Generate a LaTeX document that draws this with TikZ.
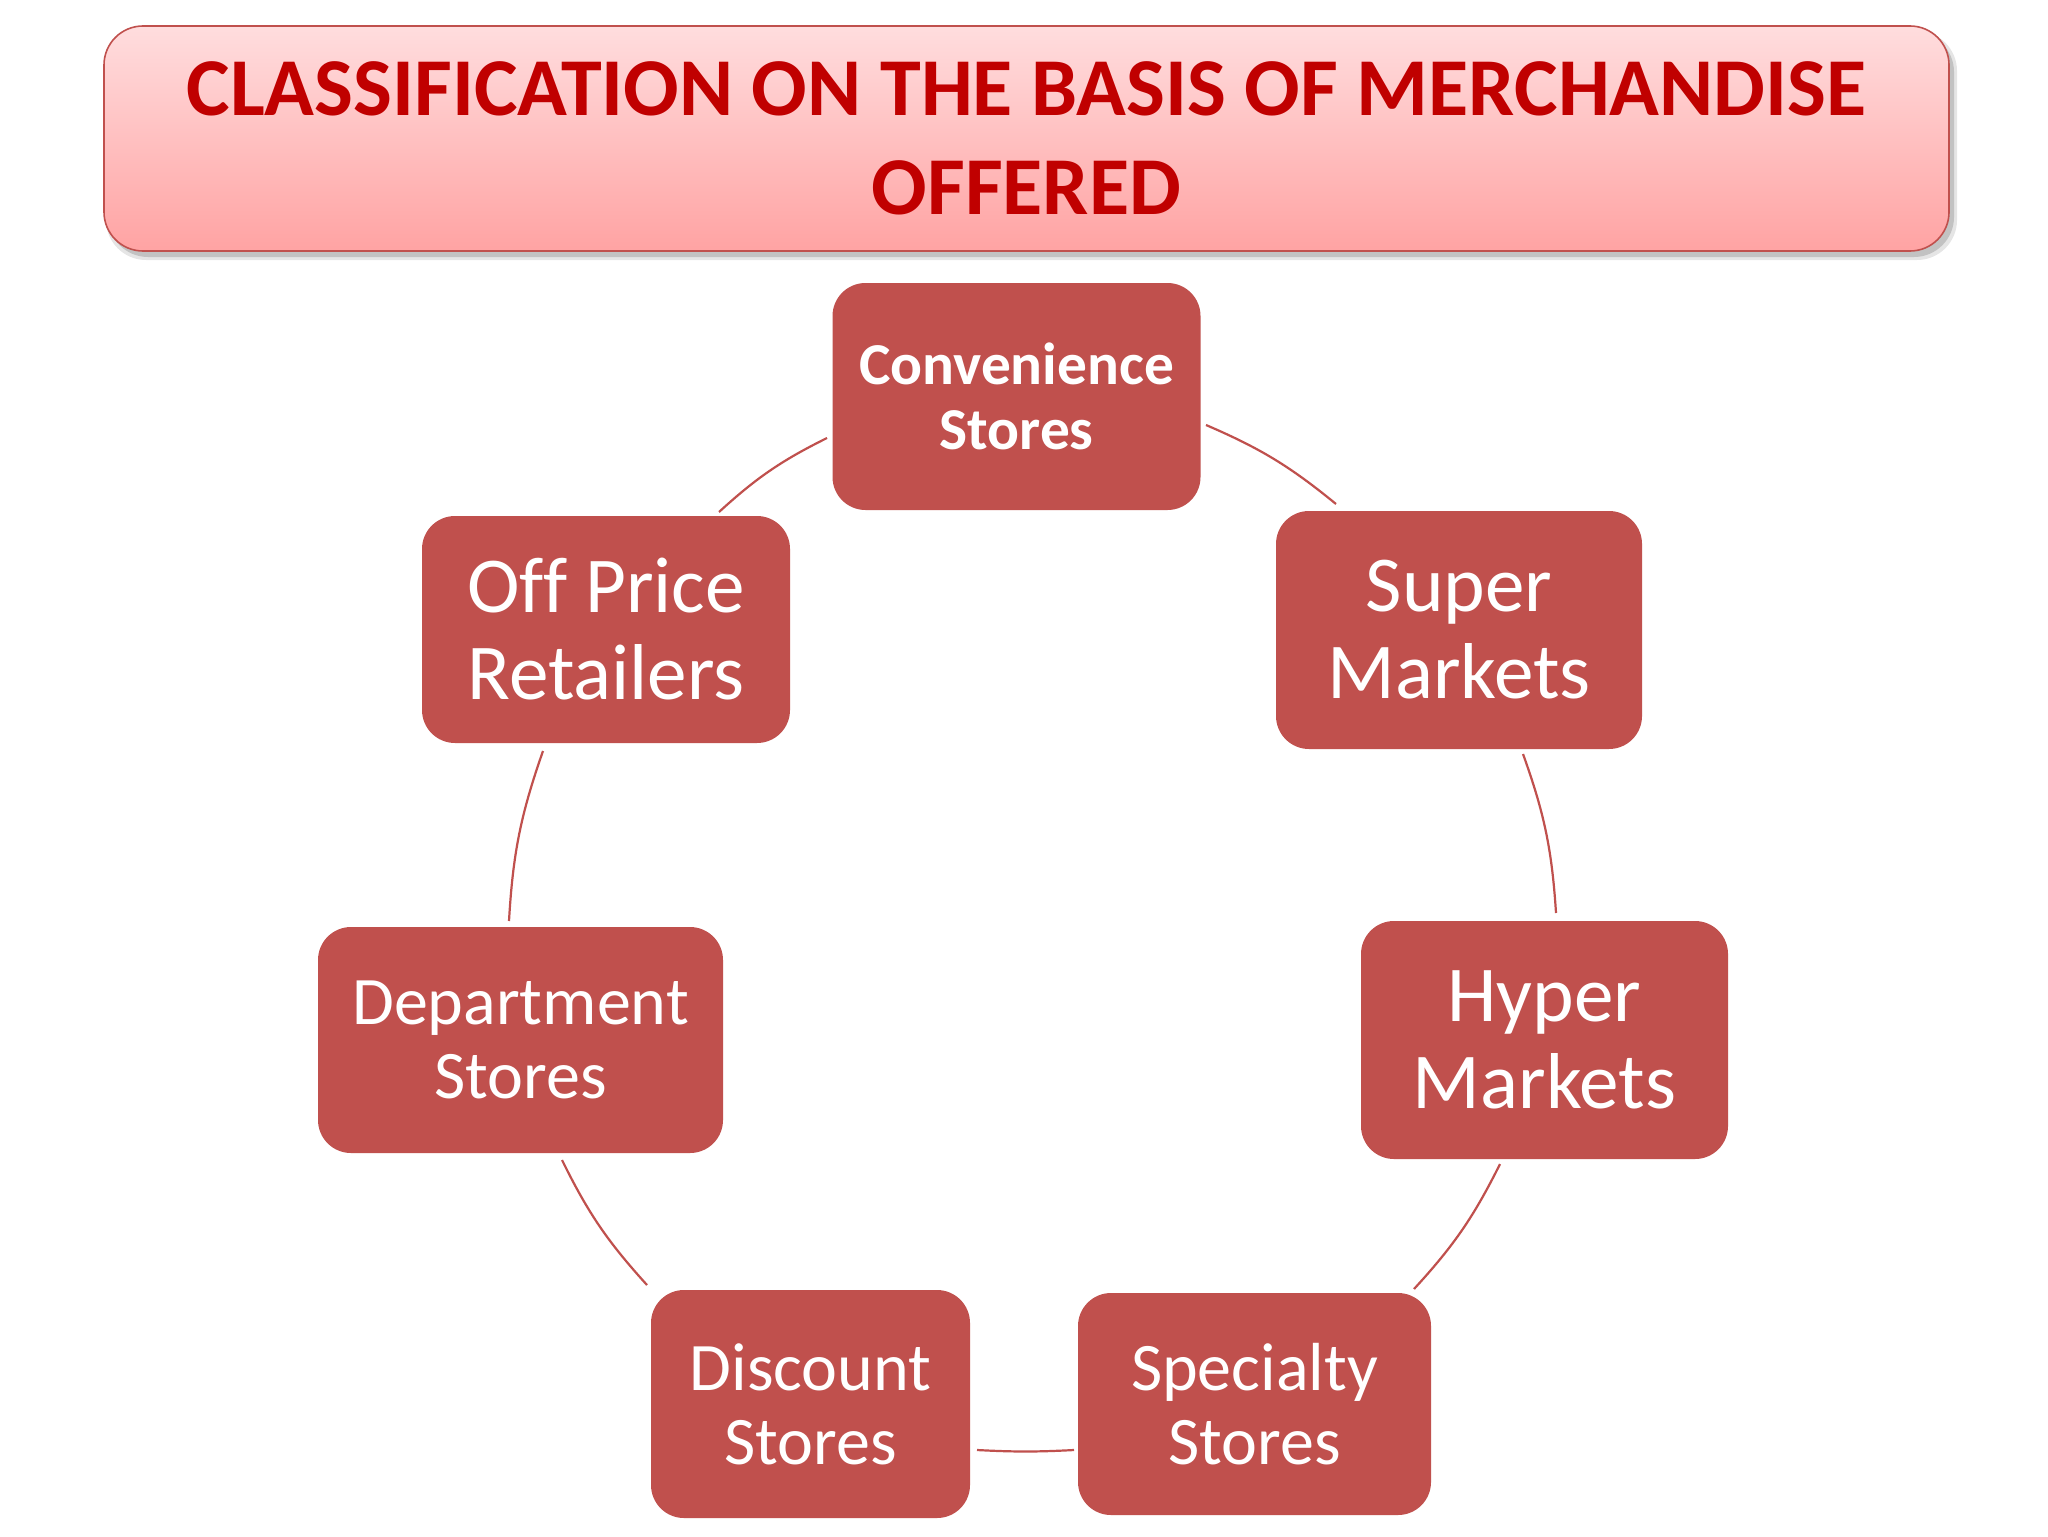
\documentclass[tikz,border=0pt]{standalone}
\usepackage{fontspec}
\setmainfont{Carlito}[Ligatures=NoCommon]
\definecolor{nodered}{HTML}{C0504D}
\definecolor{titlered}{HTML}{C00000}
\definecolor{titletop}{HTML}{FFDDDE}
\definecolor{titlebot}{HTML}{FFA3A3}
\definecolor{titleedge}{HTML}{C0504D}
\begin{document}
\begin{tikzpicture}[x=0.5pt,y=-0.5pt,
  box/.style={fill=nodered, rounded corners=16.5pt, text=white, align=center, inner sep=0pt},
  bigtxt/.style={font=\fontsize{39.6}{43.5}\selectfont},
  midtxt/.style={font=\fontsize{34}{37}\selectfont},
  boldtxt/.style={font=\bfseries\fontsize{29.7}{32.5}\selectfont},
  conn/.style={draw=nodered, line width=1.1pt}]
\useasboundingbox[fill=white] (0,0) rectangle (2048,1536);
% title shadow
\fill[black, opacity=0.10, rounded corners=20pt] (106,31) rectangle (1957,260);
\fill[black, opacity=0.15, rounded corners=20pt] (108,32) rectangle (1954,257);
% title
\node[minimum width=922.5pt, minimum height=112.5pt, rounded corners=19.5pt,
      draw=titleedge, line width=0.8pt, top color=titletop, bottom color=titlebot,
      text=titlered, align=center, inner sep=0pt,
      font=\bfseries\fontsize{41.1}{49.5}\selectfont] (title) at (1026.5,138.5)
      {CLASSIFICATION ON THE BASIS OF MERCHANDISE\\OFFERED};
% nodes
\node[box, boldtxt, minimum width=184pt, minimum height=113.5pt] (conv) at (1016.5,396.5) {Convenience\\Stores};
\node[box, bigtxt, minimum width=183pt, minimum height=119pt] (super) at (1459,630) {Super\\Markets};
\node[box, bigtxt, minimum width=183.5pt, minimum height=119pt] (hyper) at (1544.5,1040) {Hyper\\Markets};
\node[box, midtxt, minimum width=176.5pt, minimum height=111pt] (spec) at (1254.5,1404) {Specialty\\Stores};
\node[box, midtxt, minimum width=159.5pt, minimum height=114pt] (disc) at (810.5,1404) {Discount\\Stores};
\node[box, midtxt, minimum width=202.5pt, minimum height=113pt] (dept) at (520.5,1040) {Department\\Stores};
\node[box, bigtxt, minimum width=184pt, minimum height=113.5pt] (off) at (606,629.5) {Off Price\\Retailers};
% connector ends
\coordinate (c1a) at (1206,425);  \coordinate (c1b) at (1336,504);
\coordinate (c2a) at (1523,754);  \coordinate (c2b) at (1556,913);
\coordinate (c3a) at (1500,1164); \coordinate (c3b) at (1414,1289);
\coordinate (c4a) at (1074,1450); \coordinate (c4b) at (977,1450);
\coordinate (c5a) at (647,1285);  \coordinate (c5b) at (562,1160);
\coordinate (c6a) at (509,921);   \coordinate (c6b) at (543,751);
\coordinate (c7a) at (719,512);   \coordinate (c7b) at (827,438);
\draw[conn] (c1a) to[bend left=8] (c1b);
\draw[conn] (c2a) to[bend left=8] (c2b);
\draw[conn] (c3a) to[bend left=8] (c3b);
\draw[conn] (c4a) to[bend left=3] (c4b);
\draw[conn] (c5a) to[bend left=8] (c5b);
\draw[conn] (c6a) to[bend left=8] (c6b);
\draw[conn] (c7a) to[bend left=8] (c7b);
\end{tikzpicture}
\end{document}
